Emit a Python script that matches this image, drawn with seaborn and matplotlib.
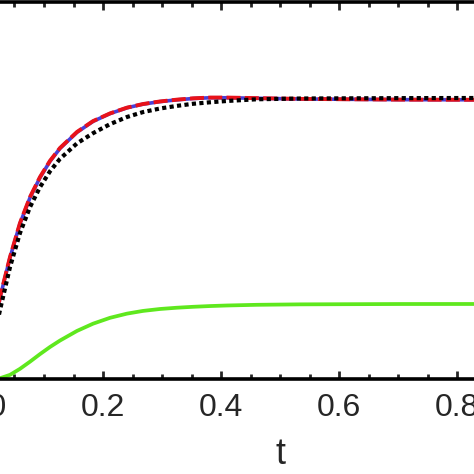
import numpy as np
import pandas as pd
import matplotlib
matplotlib.use("Agg")
import matplotlib.pyplot as plt
import seaborn as sns

# --- data ---
t = [0.0, 0.0254, 0.0424, 0.0593, 0.0763, 0.0932, 0.1102, 0.1271, 0.1559,
     0.1831, 0.2119, 0.2407, 0.2678, 0.2966, 0.3254, 0.3525, 0.3814, 0.4102,
     0.4610, 0.5339, 0.7034, 0.856, 1.0]
red = [0.0, 0.2175, 0.3236, 0.4138, 0.4828, 0.5358, 0.5788, 0.6128, 0.6553,
       0.6841, 0.7045, 0.7198, 0.7294, 0.7362, 0.7410, 0.7445, 0.7465, 0.7465,
       0.7450, 0.7430, 0.7410, 0.7405, 0.7405]
blue = [0.0, 0.2160, 0.3220, 0.4122, 0.4812, 0.5342, 0.5775, 0.6116, 0.6543,
        0.6833, 0.7040, 0.7194, 0.7290, 0.7358, 0.7405, 0.7440, 0.7460, 0.7460,
        0.7446, 0.7428, 0.7410, 0.7405, 0.7405]
black = [0.0, 0.1830, 0.2971, 0.3873, 0.4562, 0.5090, 0.5510, 0.5840, 0.6250,
         0.6520, 0.6760, 0.6950, 0.7080, 0.7175, 0.7245, 0.7300, 0.7340, 0.7375,
         0.7420, 0.7440, 0.7450, 0.7454, 0.7454]
green = [0.0, 0.0020, 0.0110, 0.0270, 0.0460, 0.0660, 0.0850, 0.1020, 0.1275,
         0.1467, 0.1623, 0.1734, 0.1806, 0.1857, 0.1891, 0.1915, 0.1935, 0.1950,
         0.1968, 0.1980, 0.1989, 0.1990, 0.1990]
xticks = [0.0, 0.2, 0.4, 0.6, 0.8, 1.0]
xticklabels = ["0.0", "0.2", "0.4", "0.6", "0.8", "1.0"]

sns.set_style("ticks")
plt.rcParams["font.family"] = ["Liberation Sans", "DejaVu Sans"]

fig = plt.figure(figsize=(4.74, 4.74), dpi=100)
ax = fig.add_axes([-15 / 474, 95 / 474, 590 / 474, 377 / 474])

df = pd.DataFrame({"t": t, "red": red, "blue": blue, "black": black, "green": green})

sns.lineplot(data=df, x="t", y="green", ax=ax, color="#5fe81e", lw=2.7)
sns.lineplot(data=df, x="t", y="blue", ax=ax, color="#4a3fd8", lw=2.6)
l_red = sns.lineplot(data=df, x="t", y="red", ax=ax, color="#e8121a", lw=2.8).lines[-1]
l_red.set_dashes((3.6, 1.1))
l_red.set_dash_capstyle("butt")
l_blk = sns.lineplot(data=df, x="t", y="black", ax=ax, color="black", lw=3.0).lines[-1]
l_blk.set_dashes((1.0, 0.8))
l_blk.set_dash_capstyle("butt")

ax.set_xlim(0, 1)
ax.set_ylim(0, 1)
ax.set_xticks(xticks)
ax.set_xticklabels(xticklabels)
ax.set_xticks(np.arange(0, 1.0001, 0.05), minor=True)
ax.set_yticks([])
ax.tick_params(axis="x", which="both", direction="in", top=True, bottom=True,
               width=2.0, labelsize=23, pad=10)
ax.tick_params(axis="x", which="major", length=6)
ax.tick_params(axis="x", which="minor", length=3.5)
for s in ax.spines.values():
    s.set_linewidth(2.6)
    s.set_color("black")
ax.set_ylabel("")
ax.set_xlabel("t", fontsize=26, labelpad=10)

fig.savefig("out.png", dpi=100)
